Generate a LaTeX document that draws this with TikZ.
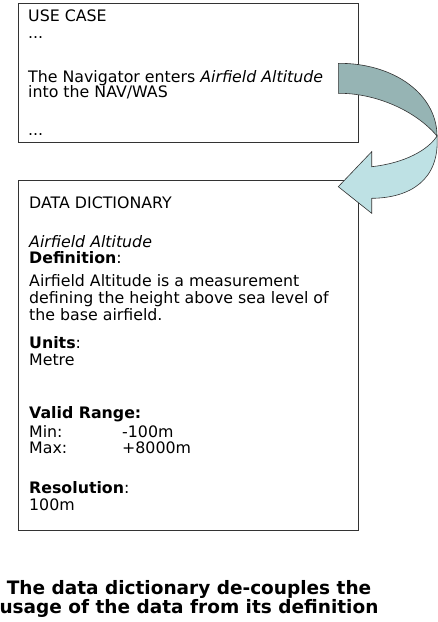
\documentclass[tikz,border=0pt]{standalone}
\usepackage{fontspec}
\setmainfont{DejaVu Sans}
\usetikzlibrary{positioning}
\definecolor{arrowdark}{HTML}{96B4B4}
\definecolor{arrowlight}{HTML}{BEE1E4}

\begin{document}
\begin{tikzpicture}[x=1pt,y=-1pt,
  box/.style={draw=black!80,line width=0.8pt,fill=white,anchor=north west,inner sep=0pt},
  txt/.style={anchor=base west,inner sep=0pt,font=\fontsize{15.8}{17}\selectfont},
  capline/.style={anchor=base,inner sep=0pt,font=\fontsize{18.5}{20}\selectfont\bfseries}]
  \useasboundingbox (0,0) rectangle (438,622);

  % Use case box
  \node[box,minimum width=340pt,minimum height=139pt] (usecase) at (18,3) {};
  \node[txt] (ucTitle) at (28,21) {USE CASE};
  \node[txt] (ucDots1) at (28,38) {...};
  \node[txt] (ucLine1) at (28,82) {The Navigator enters \textit{Airfield Altitude}};
  \node[txt] (ucLine2) at (28,97) {into the NAV/WAS};
  \node[txt] (ucDots2) at (28,135) {...};

  % Data dictionary box
  \node[box,minimum width=340pt,minimum height=350pt] (datadict) at (18,180) {};
  \node[txt] (ddTitle) at (29,208) {DATA DICTIONARY};
  \node[txt] (ddName) at (29,247) {\textit{Airfield Altitude}};
  \node[txt] (ddDef) at (29,263) {\textbf{Definition}:};
  \node[txt] (ddDef1) at (29,286) {Airfield Altitude is a measurement};
  \node[txt] (ddDef2) at (29,303) {defining the height above sea level of};
  \node[txt] (ddDef3) at (29,320) {the base airfield.};
  \node[txt] (ddUnits) at (29,348) {\textbf{Units}:};
  \node[txt] (ddMetre) at (29,365) {Metre};
  \node[txt] (ddRange) at (29,418) {\textbf{Valid Range:}};
  \node[txt] (ddMin) at (29,437) {Min:};
  \node[txt] (ddMinVal) at (122,437) {-100m};
  \node[txt] (ddMax) at (29,453) {Max:};
  \node[txt] (ddMaxVal) at (122,453) {+8000m};
  \node[txt] (ddRes) at (29,493) {\textbf{Resolution}:};
  \node[txt] (ddResVal) at (29,510) {100m};

  % Curved block arrow
  \coordinate (twist) at (437,136);
  \coordinate (tip) at (338.3,186.7);
  \draw[black!80,line width=0.6pt,fill=arrowdark]
    (338.3,63.3) .. controls (395,63) and (437,95) .. (twist)
    .. controls (415,110) and (375,93) .. (338.3,93.3) -- cycle;
  \draw[black!80,line width=0.6pt,fill=arrowlight,line join=miter]
    (twist) .. controls (428,150) and (405,163) .. (371.7,166.7)
    -- (371.7,151.7) -- (tip) -- (371.7,213.3) -- (371.7,198.3)
    .. controls (410,198) and (440,180) .. (twist) -- cycle;

  % Caption
  \node[capline] (cap1) at (189,594) {The data dictionary de-couples the};
  \node[capline] (cap2) at (189,613) {usage of the data from its definition};
\end{tikzpicture}
\end{document}
